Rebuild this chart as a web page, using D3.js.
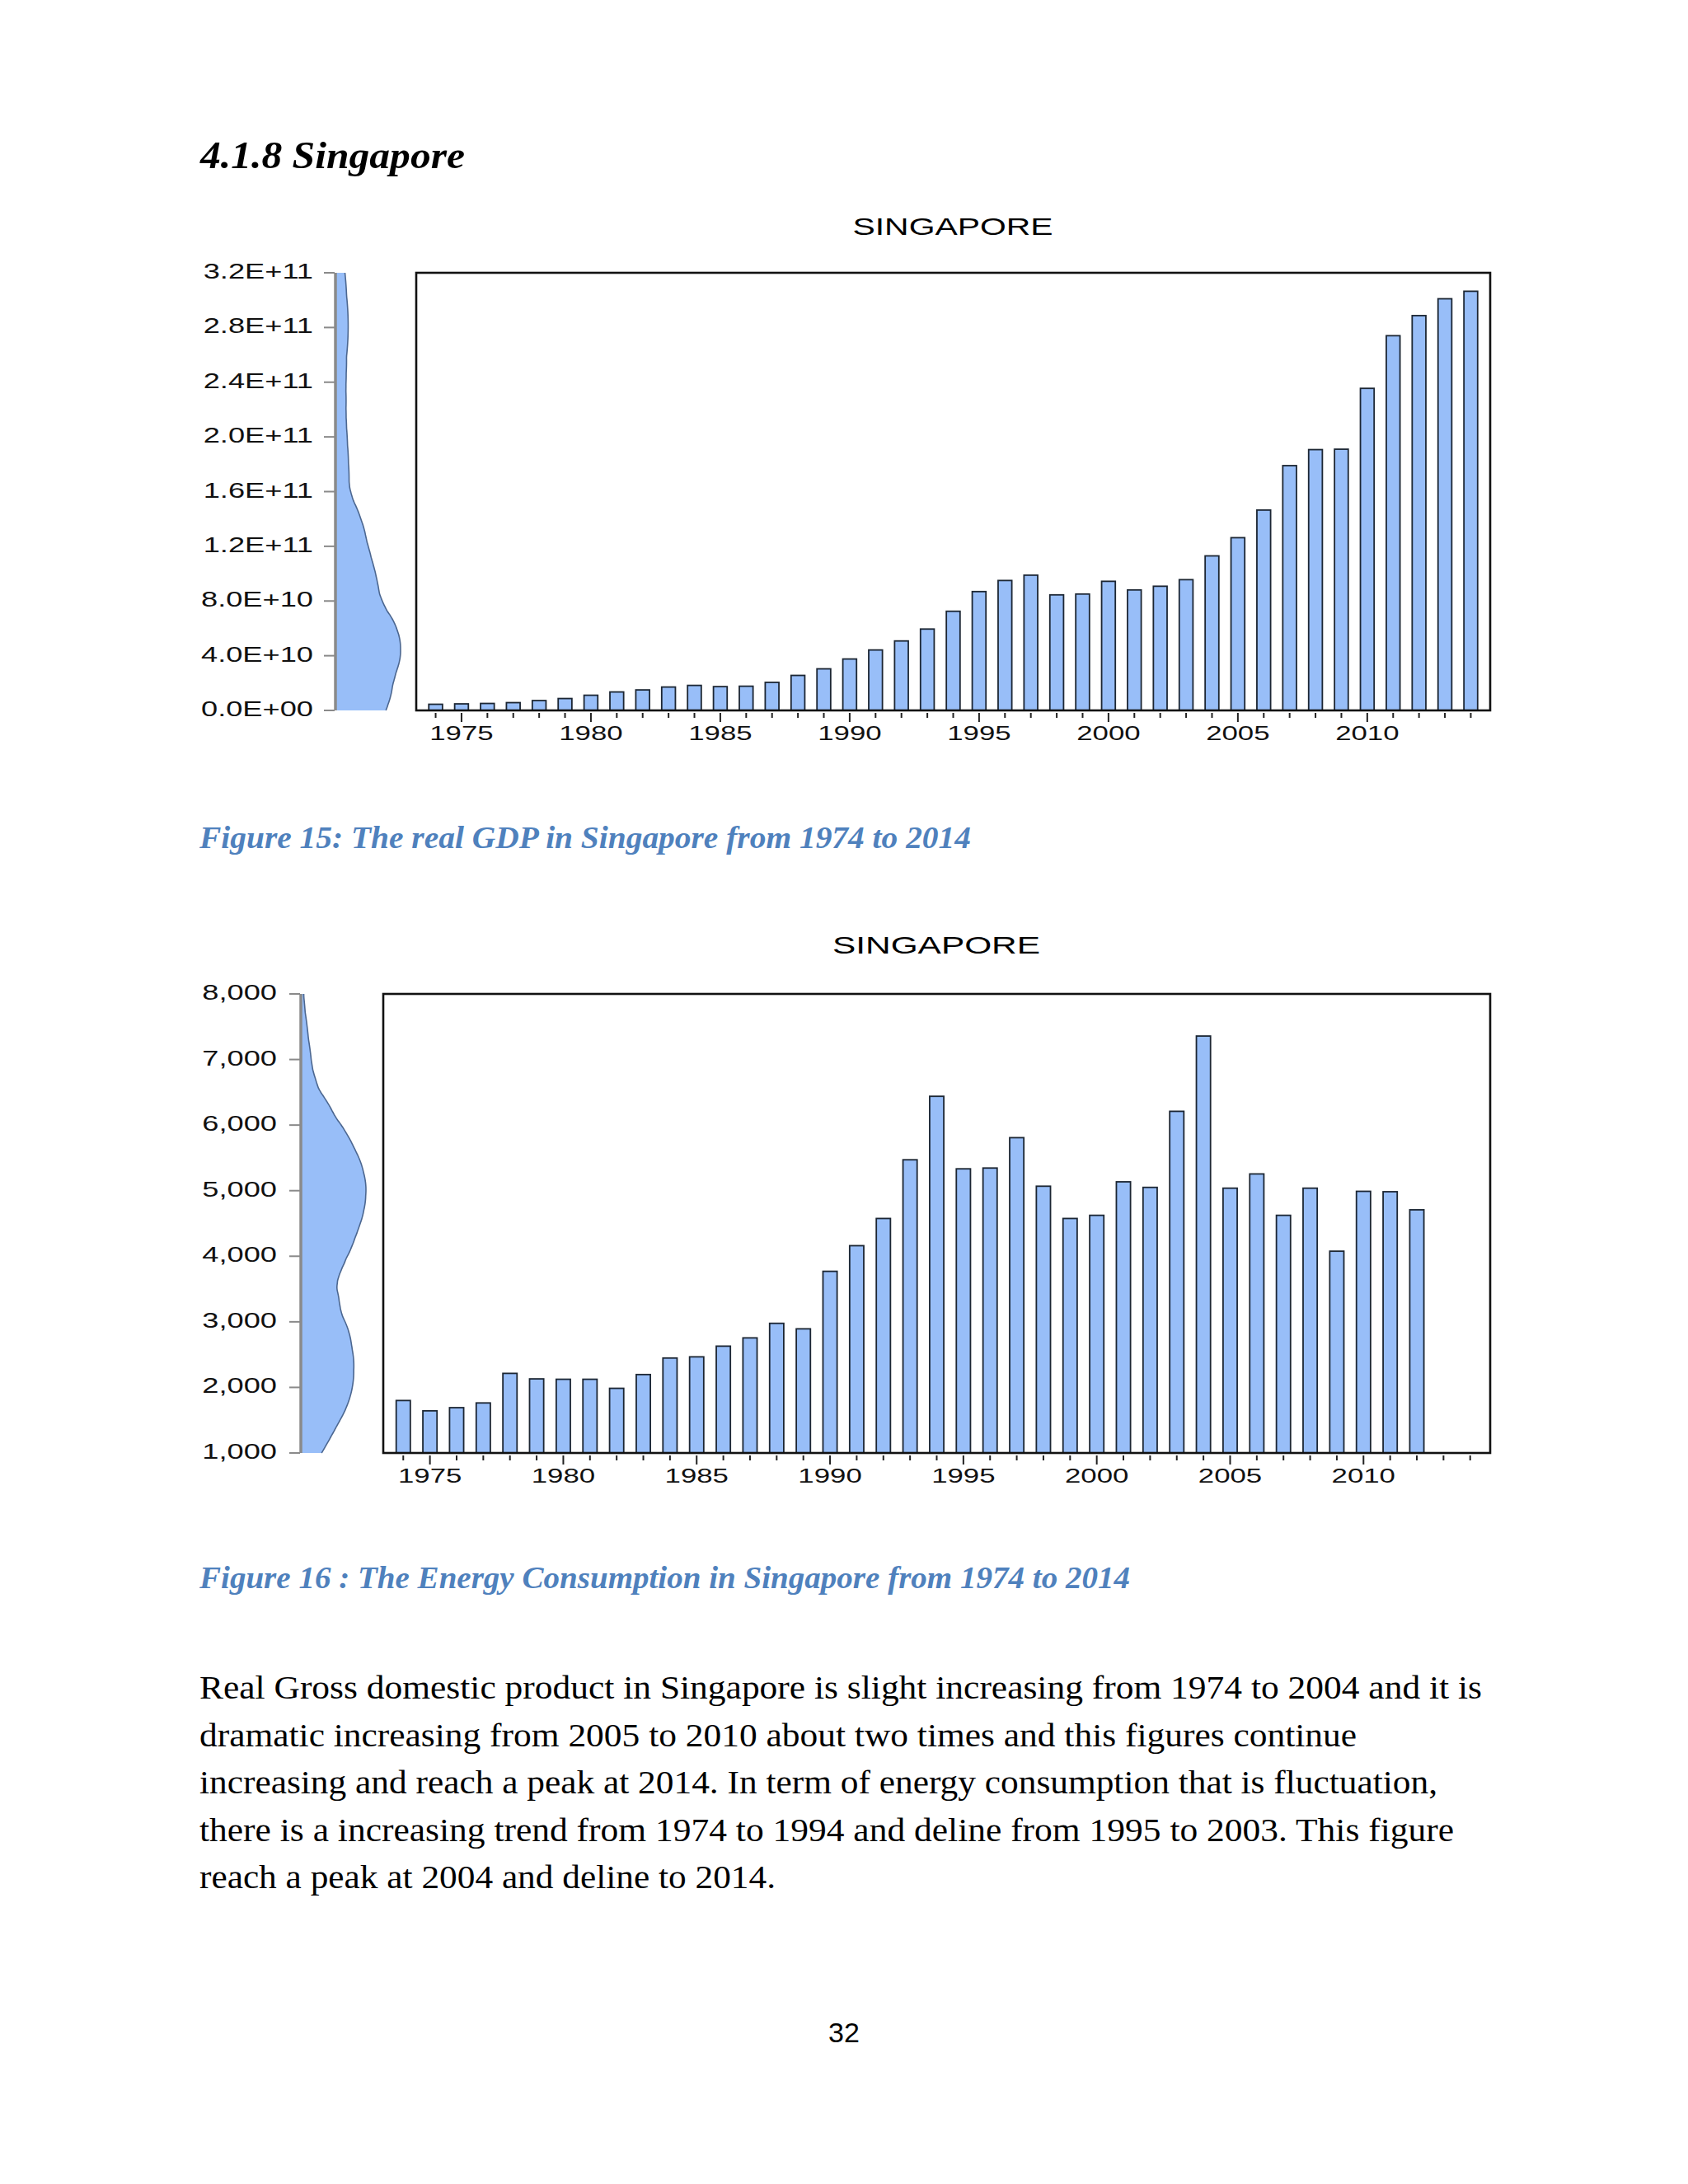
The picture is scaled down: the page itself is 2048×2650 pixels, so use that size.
<!DOCTYPE html>
<html>
<head>
<meta charset="utf-8">
<script src="https://cdn.jsdelivr.net/npm/d3@7/dist/d3.min.js"></script>
<style>
  html, body { margin: 0; padding: 0; background: #ffffff; }
  svg { display: block; }
</style>
</head>
<body>
<svg id="page" width="2048" height="2650"></svg>
<script>
// ---------------- DATA ----------------
const years = [1974,1975,1976,1977,1978,1979,1980,1981,1982,1983,1984,1985,1986,1987,1988,1989,
  1990,1991,1992,1993,1994,1995,1996,1997,1998,1999,2000,2001,2002,2003,2004,2005,2006,2007,
  2008,2009,2010,2011,2012,2013,2014];

// Real GDP (units of 1e10)
const gdpE10 = [0.45,0.48,0.51,0.57,0.72,0.87,1.11,1.35,1.50,1.71,1.83,1.74,1.77,2.05,2.56,3.04,
  3.76,4.42,5.08,5.95,7.25,8.69,9.50,9.89,8.45,8.51,9.44,8.81,9.08,9.56,11.3,12.63,14.65,17.9,
  19.07,19.1,23.55,27.4,28.87,30.1,30.65];

// Energy consumption (2013, 2014 missing)
const energy = [1800,1643,1691,1763,2214,2130,2124,2124,1986,2196,2448,2466,2629,2755,2977,2893,
  3770,4161,4576,5471,6439,5333,5345,5808,5068,4576,4624,5135,5050,6210,7358,5038,5255,4624,
  5038,4077,4990,4984,4708,null,null];

const gdpTicks = [0,4e10,8e10,1.2e11,1.6e11,2.0e11,2.4e11,2.8e11,3.2e11];
const gdpTickLabels = ["0.0E+00","4.0E+10","8.0E+10","1.2E+11","1.6E+11","2.0E+11","2.4E+11","2.8E+11","3.2E+11"];
const energyTicks = [1000,2000,3000,4000,5000,6000,7000,8000];
const energyTickLabels = ["1,000","2,000","3,000","4,000","5,000","6,000","7,000","8,000"];
const xLabelYears = [1975,1980,1985,1990,1995,2000,2005,2010];

const headingText = "4.1.8 Singapore";
const chartTitle = "SINGAPORE";
const caption15 = "Figure 15:  The real GDP in Singapore from 1974 to 2014";
const caption16 = "Figure 16 : The Energy Consumption in Singapore from 1974 to 2014";
const paragraph = [
  "Real Gross domestic product in Singapore is slight increasing from 1974 to 2004 and it is",
  "dramatic increasing from 2005 to 2010 about two times and this figures continue",
  "increasing and  reach a peak at 2014. In term of energy consumption that is fluctuation,",
  "there is a increasing trend from 1974 to 1994 and deline from 1995 to 2003. This figure",
  "reach a peak at 2004 and deline to 2014."
];
const paragraphWidths = [1556, 1404, 1502, 1522, 699];
const pageNumber = "32";

// ---------------- STYLE ----------------
const BAR_FILL = "#98bef8";
const BAR_STROKE = "#1c2633";
const DENS_STROKE = "#4c6790";
const CAPTION_BLUE = "#4f81bd";
const SANS = "'Liberation Sans', Arial, sans-serif";
const SERIF = "'Liberation Serif', 'Times New Roman', serif";

const svg = d3.select("#page");
svg.append("rect").attr("width", 2048).attr("height", 2650).attr("fill", "#ffffff");

// heading
svg.append("text").attr("x", 243).attr("y", 204)
  .attr("font-family", SERIF).attr("font-weight", "bold").attr("font-style", "italic")
  .attr("font-size", 47).attr("textLength", 321).attr("lengthAdjust", "spacingAndGlyphs")
  .attr("fill", "#000").text(headingText);

// Epanechnikov kernel density (EViews-style Silverman bandwidth)
function kde(values, lo, hi) {
  const v = values.filter(d => d != null).sort(d3.ascending);
  const n = v.length;
  const sd = d3.deviation(v);
  const iqr = d3.quantile(v, 0.75) - d3.quantile(v, 0.25);
  const h = 0.9 * 2.214 * Math.pow(n, -0.2) * Math.min(sd, iqr / 1.34);
  const grid = d3.range(0, 201).map(i => lo + (hi - lo) * i / 200);
  return grid.map(g => {
    let s = 0;
    v.forEach(x => { const u = (g - x) / h; if (Math.abs(u) < 1) s += 0.75 * (1 - u * u); });
    return { y: g, f: s / (n * h) };
  });
}

function drawChart(cfg) {
  const g = svg.append("g");
  const x = d3.scaleLinear().domain([1973.25, 2014.75]).range([cfg.left, cfg.right]);
  const y = d3.scaleLinear().domain(cfg.yDomain).range([cfg.bottom, cfg.top]);
  const step = x(1975) - x(1974);
  const bw = step * 0.53;

  // title
  g.append("text").attr("x", cfg.titleX).attr("y", cfg.titleY)
    .attr("text-anchor", "middle").attr("font-family", SANS).attr("font-size", 30)
    .attr("textLength", cfg.titleW).attr("lengthAdjust", "spacingAndGlyphs")
    .attr("fill", "#000").text(chartTitle);

  // bars
  const data = years.map((yr, i) => ({ yr, v: cfg.values[i] })).filter(d => d.v != null);
  g.append("g").selectAll("rect").data(data).join("rect")
    .attr("x", d => x(d.yr) - bw / 2)
    .attr("y", d => y(d.v))
    .attr("width", bw)
    .attr("height", d => y(cfg.yDomain[0]) - y(d.v))
    .attr("fill", BAR_FILL).attr("stroke", BAR_STROKE).attr("stroke-width", 1.8);

  // frame
  g.append("rect").attr("x", cfg.left).attr("y", cfg.top)
    .attr("width", cfg.right - cfg.left).attr("height", cfg.bottom - cfg.top)
    .attr("fill", "none").attr("stroke", "#111").attr("stroke-width", 2.6);

  // x ticks
  g.append("g").selectAll("line").data(years).join("line")
    .attr("x1", d => x(d)).attr("x2", d => x(d))
    .attr("y1", cfg.bottom + 3).attr("y2", d => cfg.bottom + (d % 5 === 0 ? 14 : 9))
    .attr("stroke", "#222").attr("stroke-width", 2);

  // x labels (horizontally stretched like the source graphic)
  g.append("g").selectAll("text").data(xLabelYears).join("text")
    .attr("transform", d => `translate(${x(d)},${cfg.bottom + 36}) scale(1.45,1)`)
    .attr("text-anchor", "middle").attr("font-family", SANS).attr("font-size", 24)
    .attr("fill", "#111").text(d => d);

  // density axis
  const ax = cfg.densAxis;
  const dens = kde(cfg.values, cfg.yDomain[0], cfg.yDomain[1]);
  const w = d3.scaleLinear().domain([0, d3.max(dens, d => d.f)]).range([0, cfg.densMax]);
  g.append("path").datum(dens)
    .attr("d", d3.area().x0(ax).x1(d => ax + w(d.f)).y(d => y(d.y)).curve(d3.curveMonotoneY))
    .attr("fill", BAR_FILL);
  g.append("path").datum(dens)
    .attr("d", d3.line().x(d => ax + w(d.f)).y(d => y(d.y)).curve(d3.curveMonotoneY))
    .attr("fill", "none").attr("stroke", DENS_STROKE).attr("stroke-width", 1.6);
  g.append("line").attr("x1", ax).attr("x2", ax).attr("y1", cfg.top).attr("y2", cfg.bottom)
    .attr("stroke", "#8a8a8a").attr("stroke-width", 3.5);

  // y ticks and labels
  g.append("g").selectAll("line").data(cfg.ticks).join("line")
    .attr("x1", ax - 14).attr("x2", ax - 1)
    .attr("y1", d => y(d)).attr("y2", d => y(d))
    .attr("stroke", "#8a8a8a").attr("stroke-width", 2);
  g.append("g").selectAll("text").data(cfg.ticks).join("text")
    .attr("transform", d => `translate(${cfg.labelRight},${y(d) + 7}) scale(1.45,1)`)
    .attr("text-anchor", "end").attr("font-family", SANS).attr("font-size", 25)
    .attr("fill", "#111").text((d, i) => cfg.tickLabels[i]);
}

drawChart({
  values: gdpE10.map(v => v * 1e10),
  yDomain: [0, 3.2e11],
  ticks: gdpTicks, tickLabels: gdpTickLabels,
  left: 505, right: 1808, top: 331, bottom: 862,
  titleX: 1156, titleY: 285, titleW: 243,
  densAxis: 407, densMax: 79, labelRight: 380
});

drawChart({
  values: energy,
  yDomain: [1000, 8000],
  ticks: energyTicks, tickLabels: energyTickLabels,
  left: 465, right: 1808, top: 1206, bottom: 1763,
  titleX: 1136, titleY: 1157, titleW: 252,
  densAxis: 365, densMax: 79, labelRight: 336
});

// captions
svg.append("text").attr("x", 242).attr("y", 1029)
  .attr("font-family", SERIF).attr("font-weight", "bold").attr("font-style", "italic")
  .attr("font-size", 37).attr("textLength", 936).attr("lengthAdjust", "spacingAndGlyphs")
  .attr("fill", CAPTION_BLUE).text(caption15);
svg.append("text").attr("x", 242).attr("y", 1927)
  .attr("font-family", SERIF).attr("font-weight", "bold").attr("font-style", "italic")
  .attr("font-size", 37).attr("textLength", 1129).attr("lengthAdjust", "spacingAndGlyphs")
  .attr("fill", CAPTION_BLUE).text(caption16);

// paragraph
svg.append("g").selectAll("text").data(paragraph).join("text")
  .attr("x", 242).attr("y", (d, i) => 2061 + i * 57.5)
  .attr("font-family", SERIF).attr("font-size", 41)
  .attr("textLength", (d, i) => paragraphWidths[i]).attr("lengthAdjust", "spacingAndGlyphs")
  .attr("fill", "#000").text(d => d);

// page number
svg.append("text").attr("x", 1024).attr("y", 2478).attr("text-anchor", "middle")
  .attr("font-family", SANS).attr("font-size", 34).attr("fill", "#000").text(pageNumber);
</script>
</body>
</html>
